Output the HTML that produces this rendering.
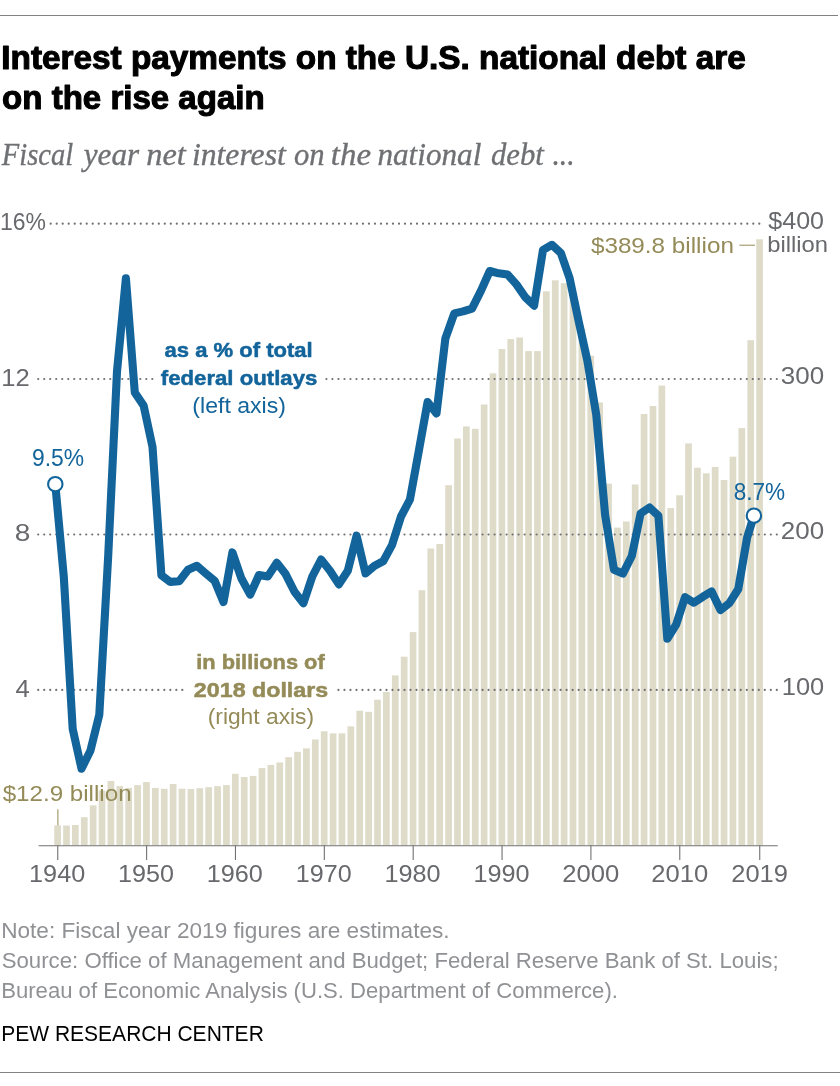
<!DOCTYPE html>
<html lang="en"><head><meta charset="utf-8"><title>Interest payments on the U.S. national debt are on the rise again</title>
<style>
html,body{margin:0;padding:0;background:#fff;}
body{width:840px;height:1086px;position:relative;overflow:hidden;font-family:"Liberation Sans",sans-serif;}
svg text{white-space:pre;}
</style></head><body>
<svg width="840" height="1086" viewBox="0 0 840 1086" style="position:absolute;left:0;top:0;will-change:transform">
<rect x="54.25" y="825.4" width="6.7" height="19.9" fill="#dedbc9"/>
<rect x="63.14" y="825.6" width="6.7" height="19.7" fill="#dedbc9"/>
<rect x="72.02" y="825.0" width="6.7" height="20.3" fill="#dedbc9"/>
<rect x="80.91" y="817.2" width="6.7" height="28.1" fill="#dedbc9"/>
<rect x="89.79" y="805.4" width="6.7" height="39.9" fill="#dedbc9"/>
<rect x="98.68" y="790.6" width="6.7" height="54.7" fill="#dedbc9"/>
<rect x="107.57" y="781.0" width="6.7" height="64.3" fill="#dedbc9"/>
<rect x="116.45" y="786.1" width="6.7" height="59.2" fill="#dedbc9"/>
<rect x="125.34" y="787.9" width="6.7" height="57.4" fill="#dedbc9"/>
<rect x="134.22" y="785.1" width="6.7" height="60.2" fill="#dedbc9"/>
<rect x="143.11" y="782.1" width="6.7" height="63.2" fill="#dedbc9"/>
<rect x="152.00" y="787.9" width="6.7" height="57.4" fill="#dedbc9"/>
<rect x="160.88" y="788.8" width="6.7" height="56.5" fill="#dedbc9"/>
<rect x="169.77" y="784.0" width="6.7" height="61.3" fill="#dedbc9"/>
<rect x="178.65" y="788.7" width="6.7" height="56.6" fill="#dedbc9"/>
<rect x="187.54" y="789.0" width="6.7" height="56.3" fill="#dedbc9"/>
<rect x="196.43" y="788.2" width="6.7" height="57.1" fill="#dedbc9"/>
<rect x="205.31" y="787.2" width="6.7" height="58.1" fill="#dedbc9"/>
<rect x="214.20" y="786.2" width="6.7" height="59.1" fill="#dedbc9"/>
<rect x="223.08" y="785.1" width="6.7" height="60.2" fill="#dedbc9"/>
<rect x="231.97" y="773.8" width="6.7" height="71.5" fill="#dedbc9"/>
<rect x="240.86" y="777.0" width="6.7" height="68.3" fill="#dedbc9"/>
<rect x="249.74" y="775.9" width="6.7" height="69.4" fill="#dedbc9"/>
<rect x="258.63" y="768.1" width="6.7" height="77.2" fill="#dedbc9"/>
<rect x="267.51" y="764.9" width="6.7" height="80.4" fill="#dedbc9"/>
<rect x="276.40" y="762.5" width="6.7" height="82.8" fill="#dedbc9"/>
<rect x="285.29" y="757.2" width="6.7" height="88.1" fill="#dedbc9"/>
<rect x="294.17" y="751.8" width="6.7" height="93.5" fill="#dedbc9"/>
<rect x="303.06" y="748.4" width="6.7" height="96.9" fill="#dedbc9"/>
<rect x="311.94" y="739.5" width="6.7" height="105.8" fill="#dedbc9"/>
<rect x="320.83" y="731.3" width="6.7" height="114.0" fill="#dedbc9"/>
<rect x="329.72" y="733.4" width="6.7" height="111.9" fill="#dedbc9"/>
<rect x="338.60" y="733.4" width="6.7" height="111.9" fill="#dedbc9"/>
<rect x="347.49" y="726.4" width="6.7" height="118.9" fill="#dedbc9"/>
<rect x="356.37" y="710.7" width="6.7" height="134.6" fill="#dedbc9"/>
<rect x="365.26" y="711.8" width="6.7" height="133.5" fill="#dedbc9"/>
<rect x="374.15" y="699.7" width="6.7" height="145.6" fill="#dedbc9"/>
<rect x="383.03" y="692.0" width="6.7" height="153.3" fill="#dedbc9"/>
<rect x="391.92" y="675.4" width="6.7" height="169.9" fill="#dedbc9"/>
<rect x="400.80" y="656.7" width="6.7" height="188.6" fill="#dedbc9"/>
<rect x="409.69" y="632.1" width="6.7" height="213.2" fill="#dedbc9"/>
<rect x="418.58" y="590.2" width="6.7" height="255.1" fill="#dedbc9"/>
<rect x="427.46" y="548.5" width="6.7" height="296.8" fill="#dedbc9"/>
<rect x="436.35" y="544.0" width="6.7" height="301.3" fill="#dedbc9"/>
<rect x="445.23" y="485.2" width="6.7" height="360.1" fill="#dedbc9"/>
<rect x="454.12" y="438.5" width="6.7" height="406.8" fill="#dedbc9"/>
<rect x="463.01" y="426.4" width="6.7" height="418.9" fill="#dedbc9"/>
<rect x="471.89" y="428.8" width="6.7" height="416.5" fill="#dedbc9"/>
<rect x="480.78" y="404.5" width="6.7" height="440.8" fill="#dedbc9"/>
<rect x="489.66" y="373.3" width="6.7" height="472.0" fill="#dedbc9"/>
<rect x="498.55" y="349.0" width="6.7" height="496.3" fill="#dedbc9"/>
<rect x="507.44" y="339.1" width="6.7" height="506.2" fill="#dedbc9"/>
<rect x="516.32" y="337.5" width="6.7" height="507.8" fill="#dedbc9"/>
<rect x="525.21" y="351.1" width="6.7" height="494.2" fill="#dedbc9"/>
<rect x="534.09" y="351.1" width="6.7" height="494.2" fill="#dedbc9"/>
<rect x="542.98" y="291.3" width="6.7" height="554.0" fill="#dedbc9"/>
<rect x="551.87" y="280.3" width="6.7" height="565.0" fill="#dedbc9"/>
<rect x="560.75" y="283.2" width="6.7" height="562.1" fill="#dedbc9"/>
<rect x="569.64" y="296.0" width="6.7" height="549.3" fill="#dedbc9"/>
<rect x="578.52" y="329.0" width="6.7" height="516.3" fill="#dedbc9"/>
<rect x="587.41" y="355.7" width="6.7" height="489.6" fill="#dedbc9"/>
<rect x="596.30" y="402.5" width="6.7" height="442.8" fill="#dedbc9"/>
<rect x="605.18" y="483.6" width="6.7" height="361.7" fill="#dedbc9"/>
<rect x="614.07" y="527.6" width="6.7" height="317.7" fill="#dedbc9"/>
<rect x="622.95" y="521.5" width="6.7" height="323.8" fill="#dedbc9"/>
<rect x="631.84" y="484.5" width="6.7" height="360.8" fill="#dedbc9"/>
<rect x="640.73" y="414.0" width="6.7" height="431.3" fill="#dedbc9"/>
<rect x="649.61" y="406.0" width="6.7" height="439.3" fill="#dedbc9"/>
<rect x="658.50" y="385.6" width="6.7" height="459.7" fill="#dedbc9"/>
<rect x="667.38" y="508.1" width="6.7" height="337.2" fill="#dedbc9"/>
<rect x="676.27" y="495.3" width="6.7" height="350.0" fill="#dedbc9"/>
<rect x="685.16" y="443.4" width="6.7" height="401.9" fill="#dedbc9"/>
<rect x="694.04" y="467.7" width="6.7" height="377.6" fill="#dedbc9"/>
<rect x="702.93" y="473.3" width="6.7" height="372.0" fill="#dedbc9"/>
<rect x="711.81" y="466.9" width="6.7" height="378.4" fill="#dedbc9"/>
<rect x="720.70" y="480.0" width="6.7" height="365.3" fill="#dedbc9"/>
<rect x="729.59" y="456.7" width="6.7" height="388.6" fill="#dedbc9"/>
<rect x="738.47" y="428.1" width="6.7" height="417.2" fill="#dedbc9"/>
<rect x="747.36" y="340.2" width="6.7" height="505.1" fill="#dedbc9"/>
<rect x="756.24" y="239.3" width="6.7" height="606.0" fill="#dedbc9"/>
<line x1="50.70" y1="223.7" x2="759.30" y2="223.7" stroke="#707072" stroke-width="2.2" stroke-linecap="round" stroke-dasharray="0 6.005"/>
<line x1="38.20" y1="379.0" x2="152.31" y2="379.0" stroke="#707072" stroke-width="2.2" stroke-linecap="round" stroke-dasharray="0 6.005"/>
<line x1="326.44" y1="379.0" x2="776.83" y2="379.0" stroke="#707072" stroke-width="2.2" stroke-linecap="round" stroke-dasharray="0 6.005"/>
<line x1="38.20" y1="534.5" x2="776.83" y2="534.5" stroke="#707072" stroke-width="2.2" stroke-linecap="round" stroke-dasharray="0 6.005"/>
<line x1="38.20" y1="689.9" x2="182.33" y2="689.9" stroke="#707072" stroke-width="2.2" stroke-linecap="round" stroke-dasharray="0 6.005"/>
<line x1="338.45" y1="689.9" x2="776.83" y2="689.9" stroke="#707072" stroke-width="2.2" stroke-linecap="round" stroke-dasharray="0 6.005"/>
<line x1="38.6" y1="845.6999999999999" x2="777.8" y2="845.6999999999999" stroke="#707174" stroke-width="1.1"/>
<line x1="57.75" y1="845.3" x2="57.75" y2="860" stroke="#707174" stroke-width="1.1"/>
<line x1="146.61" y1="845.3" x2="146.61" y2="860" stroke="#707174" stroke-width="1.1"/>
<line x1="235.47" y1="845.3" x2="235.47" y2="860" stroke="#707174" stroke-width="1.1"/>
<line x1="324.33" y1="845.3" x2="324.33" y2="860" stroke="#707174" stroke-width="1.1"/>
<line x1="413.19" y1="845.3" x2="413.19" y2="860" stroke="#707174" stroke-width="1.1"/>
<line x1="502.05" y1="845.3" x2="502.05" y2="860" stroke="#707174" stroke-width="1.1"/>
<line x1="590.91" y1="845.3" x2="590.91" y2="860" stroke="#707174" stroke-width="1.1"/>
<line x1="679.77" y1="845.3" x2="679.77" y2="860" stroke="#707174" stroke-width="1.1"/>
<line x1="759.74" y1="845.3" x2="759.74" y2="860" stroke="#707174" stroke-width="1.1"/>
<line x1="57.9" y1="809.3" x2="57.9" y2="825.4" stroke="#948b58" stroke-width="1"/>
<line x1="739.4" y1="245.2" x2="755" y2="245.2" stroke="#948b58" stroke-width="1"/>
<path d="M55.3,484.2 L63.8,576.8 L72.7,728.9 L81.5,768.7 L90.4,750.8 L99.3,714.8 L108.2,556.0 L117.0,371.5 L125.9,278.3 L134.8,392.5 L143.7,405.8 L152.5,446.8 L161.4,575.3 L170.3,581.9 L179.2,581.3 L188.0,569.8 L196.9,565.8 L205.8,573.5 L214.7,580.9 L223.5,602.1 L232.4,552.4 L241.3,578.2 L250.2,594.6 L259.0,575.0 L267.9,576.4 L276.8,562.8 L285.6,574.1 L294.5,591.8 L303.4,603.3 L312.3,576.5 L321.1,559.6 L330.0,570.8 L338.9,584.4 L347.8,570.8 L356.6,535.7 L365.5,573.4 L374.4,565.8 L383.3,561.2 L392.1,544.8 L401.0,516.5 L409.9,499.7 L418.8,451.1 L427.6,402.0 L436.5,413.4 L445.4,338.3 L454.3,313.4 L463.1,311.4 L472.0,308.6 L480.9,290.9 L489.8,271.0 L498.6,273.3 L507.5,274.5 L516.4,284.4 L525.3,297.2 L534.1,305.6 L543.0,249.9 L551.9,244.8 L560.8,252.9 L569.6,278.1 L578.5,320.5 L587.4,360.8 L596.3,415.1 L605.1,514.8 L614.0,569.8 L622.9,573.6 L631.8,556.0 L640.6,513.5 L649.5,507.5 L658.4,515.8 L667.3,638.8 L676.1,624.7 L685.0,597.2 L693.9,602.7 L702.8,596.8 L711.6,591.4 L720.5,610.1 L729.4,603.1 L738.3,589.0 L747.1,537.8 L753.9,515.7" fill="none" stroke="#12649b" stroke-width="8.1" stroke-linejoin="round" stroke-linecap="butt"/>
<circle cx="55.3" cy="484.2" r="7.2" fill="#fff" stroke="#12649b" stroke-width="2.1"/>
<circle cx="753.9" cy="515.7" r="7.2" fill="#fff" stroke="#12649b" stroke-width="2.1"/>
<text id="t0" x="0.09" y="230.4" font-family="'Liberation Sans', sans-serif" font-size="23.2" font-weight="normal" font-style="normal" fill="#68696c" textLength="45.98" lengthAdjust="spacingAndGlyphs">16%</text>
<text id="t1" x="1.39" y="386.1" font-family="'Liberation Sans', sans-serif" font-size="23.2" font-weight="normal" font-style="normal" fill="#68696c" textLength="28.46" lengthAdjust="spacingAndGlyphs">12</text>
<text id="t2" x="14.83" y="541.3" font-family="'Liberation Sans', sans-serif" font-size="23.2" font-weight="normal" font-style="normal" fill="#68696c" textLength="15.60" lengthAdjust="spacingAndGlyphs">8</text>
<text id="t3" x="15.56" y="696.5" font-family="'Liberation Sans', sans-serif" font-size="23.2" font-weight="normal" font-style="normal" fill="#68696c" textLength="14.24" lengthAdjust="spacingAndGlyphs">4</text>
<text id="t4" x="768.30" y="228.5" font-family="'Liberation Sans', sans-serif" font-size="23.2" font-weight="normal" font-style="normal" fill="#68696c" textLength="55.72" lengthAdjust="spacingAndGlyphs">$400</text>
<text id="t5" x="767.26" y="251.7" font-family="'Liberation Sans', sans-serif" font-size="22.0" font-weight="normal" font-style="normal" fill="#68696c" textLength="60.83" lengthAdjust="spacingAndGlyphs">billion</text>
<text id="t6" x="780.88" y="383.8" font-family="'Liberation Sans', sans-serif" font-size="23.2" font-weight="normal" font-style="normal" fill="#68696c" textLength="43.32" lengthAdjust="spacingAndGlyphs">300</text>
<text id="t7" x="780.87" y="539.1" font-family="'Liberation Sans', sans-serif" font-size="23.2" font-weight="normal" font-style="normal" fill="#68696c" textLength="43.33" lengthAdjust="spacingAndGlyphs">200</text>
<text id="t8" x="781.75" y="694.6" font-family="'Liberation Sans', sans-serif" font-size="23.2" font-weight="normal" font-style="normal" fill="#68696c" textLength="42.42" lengthAdjust="spacingAndGlyphs">100</text>
<text id="t9" x="29.08" y="882.0" font-family="'Liberation Sans', sans-serif" font-size="23.2" font-weight="normal" font-style="normal" fill="#68696c" textLength="56.19" lengthAdjust="spacingAndGlyphs">1940</text>
<text id="t10" x="118.06" y="882.0" font-family="'Liberation Sans', sans-serif" font-size="23.2" font-weight="normal" font-style="normal" fill="#68696c" textLength="55.91" lengthAdjust="spacingAndGlyphs">1950</text>
<text id="t11" x="206.76" y="882.0" font-family="'Liberation Sans', sans-serif" font-size="23.2" font-weight="normal" font-style="normal" fill="#68696c" textLength="56.15" lengthAdjust="spacingAndGlyphs">1960</text>
<text id="t12" x="295.73" y="882.0" font-family="'Liberation Sans', sans-serif" font-size="23.2" font-weight="normal" font-style="normal" fill="#68696c" textLength="55.89" lengthAdjust="spacingAndGlyphs">1970</text>
<text id="t13" x="384.44" y="882.0" font-family="'Liberation Sans', sans-serif" font-size="23.2" font-weight="normal" font-style="normal" fill="#68696c" textLength="56.15" lengthAdjust="spacingAndGlyphs">1980</text>
<text id="t14" x="473.42" y="882.0" font-family="'Liberation Sans', sans-serif" font-size="23.2" font-weight="normal" font-style="normal" fill="#68696c" textLength="56.15" lengthAdjust="spacingAndGlyphs">1990</text>
<text id="t15" x="562.26" y="882.0" font-family="'Liberation Sans', sans-serif" font-size="23.2" font-weight="normal" font-style="normal" fill="#68696c" textLength="57.16" lengthAdjust="spacingAndGlyphs">2000</text>
<text id="t16" x="651.25" y="882.0" font-family="'Liberation Sans', sans-serif" font-size="23.2" font-weight="normal" font-style="normal" fill="#68696c" textLength="56.88" lengthAdjust="spacingAndGlyphs">2010</text>
<text id="t17" x="731.25" y="882.0" font-family="'Liberation Sans', sans-serif" font-size="23.2" font-weight="normal" font-style="normal" fill="#68696c" textLength="56.65" lengthAdjust="spacingAndGlyphs">2019</text>
<text id="t18" x="32.01" y="466.4" font-family="'Liberation Sans', sans-serif" font-size="23.2" font-weight="normal" font-style="normal" fill="#12649b" textLength="52.07" lengthAdjust="spacingAndGlyphs">9.5%</text>
<text id="t19" x="733.67" y="499.6" font-family="'Liberation Sans', sans-serif" font-size="23.2" font-weight="normal" font-style="normal" fill="#12649b" textLength="51.39" lengthAdjust="spacingAndGlyphs">8.7%</text>
<text id="t20" x="2.68" y="800.7" font-family="'Liberation Sans', sans-serif" font-size="22.8" font-weight="normal" font-style="normal" fill="#948b58" textLength="128.93" lengthAdjust="spacingAndGlyphs">$12.9 billion</text>
<text id="t21" x="590.90" y="252.6" font-family="'Liberation Sans', sans-serif" font-size="22.8" font-weight="normal" font-style="normal" fill="#948b58" textLength="143.00" lengthAdjust="spacingAndGlyphs">$389.8 billion</text>
<text id="t22" x="164.58" y="357.4" font-family="'Liberation Sans', sans-serif" font-size="21" font-weight="bold" font-style="normal" fill="#12649b" stroke="#12649b" stroke-width="0.5" stroke-linejoin="round" textLength="148.17" lengthAdjust="spacingAndGlyphs">as a % of total</text>
<text id="t23" x="160.81" y="384.9" font-family="'Liberation Sans', sans-serif" font-size="21" font-weight="bold" font-style="normal" fill="#12649b" stroke="#12649b" stroke-width="0.5" stroke-linejoin="round" textLength="156.53" lengthAdjust="spacingAndGlyphs">federal outlays</text>
<text id="t24" x="192.34" y="413.3" font-family="'Liberation Sans', sans-serif" font-size="22.0" font-weight="normal" font-style="normal" fill="#12649b" textLength="93.62" lengthAdjust="spacingAndGlyphs">(left axis)</text>
<text id="t25" x="196.27" y="668.9" font-family="'Liberation Sans', sans-serif" font-size="21" font-weight="bold" font-style="normal" fill="#948b58" stroke="#948b58" stroke-width="0.5" stroke-linejoin="round" textLength="128.44" lengthAdjust="spacingAndGlyphs">in billions of</text>
<text id="t26" x="193.87" y="697.4" font-family="'Liberation Sans', sans-serif" font-size="21" font-weight="bold" font-style="normal" fill="#948b58" stroke="#948b58" stroke-width="0.5" stroke-linejoin="round" textLength="134.36" lengthAdjust="spacingAndGlyphs">2018 dollars</text>
<text id="t27" x="207.71" y="724.2" font-family="'Liberation Sans', sans-serif" font-size="22.0" font-weight="normal" font-style="normal" fill="#948b58" textLength="106.37" lengthAdjust="spacingAndGlyphs">(right axis)</text>
<line x1="0" y1="15.5" x2="838" y2="15.5" stroke="#828282" stroke-width="1"/>
<text id="t28" x="1.27" y="69.3" font-family="'Liberation Sans', sans-serif" font-size="32.8" font-weight="bold" font-style="normal" fill="#000" stroke="#000" stroke-width="1.1" stroke-linejoin="round" textLength="744.51" lengthAdjust="spacingAndGlyphs">Interest payments on the U.S. national debt are</text>
<text id="t29" x="2.13" y="109.1" font-family="'Liberation Sans', sans-serif" font-size="32.8" font-weight="bold" font-style="normal" fill="#000" stroke="#000" stroke-width="1.1" stroke-linejoin="round" textLength="262.51" lengthAdjust="spacingAndGlyphs">on the rise again</text>
<text id="t30" x="1.85" y="165.2" font-family="'Liberation Serif', sans-serif" font-size="31.5" font-weight="normal" font-style="italic" fill="#6f7073" stroke="#6f7073" stroke-width="0.35" stroke-linejoin="round" textLength="71.29" lengthAdjust="spacingAndGlyphs">Fiscal</text>
<text id="t31" x="83.81" y="165.2" font-family="'Liberation Serif', sans-serif" font-size="31.5" font-weight="normal" font-style="italic" fill="#6f7073" stroke="#6f7073" stroke-width="0.35" stroke-linejoin="round" textLength="55.34" lengthAdjust="spacingAndGlyphs">year</text>
<text id="t32" x="146.25" y="165.2" font-family="'Liberation Serif', sans-serif" font-size="31.5" font-weight="normal" font-style="italic" fill="#6f7073" stroke="#6f7073" stroke-width="0.35" stroke-linejoin="round" textLength="39.51" lengthAdjust="spacingAndGlyphs">net</text>
<text id="t33" x="191.90" y="165.2" font-family="'Liberation Serif', sans-serif" font-size="31.5" font-weight="normal" font-style="italic" fill="#6f7073" stroke="#6f7073" stroke-width="0.35" stroke-linejoin="round" textLength="93.92" lengthAdjust="spacingAndGlyphs">interest</text>
<text id="t34" x="294.06" y="165.2" font-family="'Liberation Serif', sans-serif" font-size="31.5" font-weight="normal" font-style="italic" fill="#6f7073" stroke="#6f7073" stroke-width="0.35" stroke-linejoin="round" textLength="30.65" lengthAdjust="spacingAndGlyphs">on</text>
<text id="t35" x="330.88" y="165.2" font-family="'Liberation Serif', sans-serif" font-size="31.5" font-weight="normal" font-style="italic" fill="#6f7073" stroke="#6f7073" stroke-width="0.35" stroke-linejoin="round" textLength="40.19" lengthAdjust="spacingAndGlyphs">the</text>
<text id="t36" x="377.47" y="165.2" font-family="'Liberation Serif', sans-serif" font-size="31.5" font-weight="normal" font-style="italic" fill="#6f7073" stroke="#6f7073" stroke-width="0.35" stroke-linejoin="round" textLength="103.84" lengthAdjust="spacingAndGlyphs">national</text>
<text id="t37" x="490.99" y="165.2" font-family="'Liberation Serif', sans-serif" font-size="31.5" font-weight="normal" font-style="italic" fill="#6f7073" stroke="#6f7073" stroke-width="0.35" stroke-linejoin="round" textLength="52.84" lengthAdjust="spacingAndGlyphs">debt</text>
<text id="t38" x="552.42" y="165.2" font-family="'Liberation Serif', sans-serif" font-size="31.5" font-weight="normal" font-style="italic" fill="#6f7073" stroke="#6f7073" stroke-width="0.35" stroke-linejoin="round" textLength="22.30" lengthAdjust="spacingAndGlyphs">...</text>
<text id="t39" x="1.15" y="937.9" font-family="'Liberation Sans', sans-serif" font-size="21.2" font-weight="normal" font-style="normal" fill="#909194" textLength="448.45" lengthAdjust="spacingAndGlyphs">Note: Fiscal year 2019 figures are estimates.</text>
<text id="t40" x="1.73" y="967.8" font-family="'Liberation Sans', sans-serif" font-size="21.2" font-weight="normal" font-style="normal" fill="#909194" textLength="776.89" lengthAdjust="spacingAndGlyphs">Source: Office of Management and Budget; Federal Reserve Bank of St. Louis;</text>
<text id="t41" x="1.19" y="997.8" font-family="'Liberation Sans', sans-serif" font-size="21.2" font-weight="normal" font-style="normal" fill="#909194" textLength="616.72" lengthAdjust="spacingAndGlyphs">Bureau of Economic Analysis (U.S. Department of Commerce).</text>
<text id="t42" x="1.28" y="1041.4" font-family="'Liberation Sans', sans-serif" font-size="21.2" font-weight="normal" font-style="normal" fill="#000" textLength="262.53" lengthAdjust="spacingAndGlyphs">PEW RESEARCH CENTER</text>
<line x1="0" y1="1072.5" x2="840" y2="1072.5" stroke="#828282" stroke-width="1"/>
</svg>
</body></html>
